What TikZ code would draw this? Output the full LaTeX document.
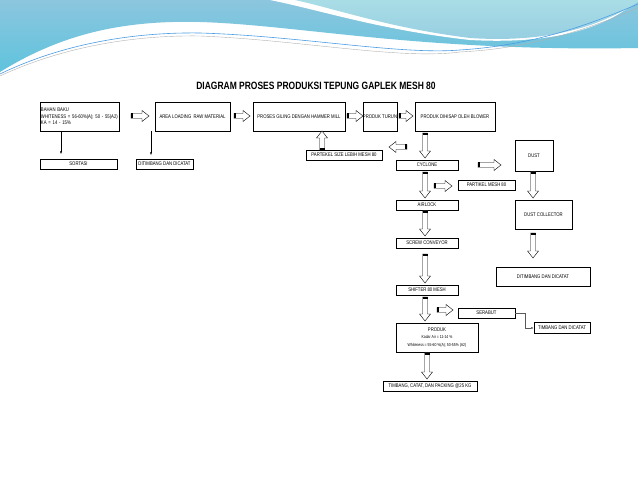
\documentclass[tikz,border=0pt]{standalone}
\usepackage{fontspec}
\setmainfont{Liberation Sans}
\newfontfamily\nar[FakeStretch=0.8]{Liberation Sans}
\usetikzlibrary{arrows.meta}
\definecolor{wa}{HTML}{5FC3DD}
\definecolor{wb}{HTML}{8CC6DE}
\definecolor{wc}{HTML}{A9DDE6}
\tikzset{
 x=1pt,y=-1pt,
 bx/.style={draw,line width=0.7pt,inner sep=1pt,font=\nar\fontsize{5.3}{6.3}\selectfont},
 fat/.pic={\draw[fill=white,line width=0.4pt] (0,-2.5)--(#1-7,-2.5)--(#1-7,-5.5)--(#1,0)--(#1-7,5.5)--(#1-7,2.5)--(0,2.5)--cycle;
   \fill (0,-2.5) rectangle (2.2,2.5);},
 thin/.style={-{Latex[length=2.5pt,width=2pt]},line width=0.3pt}
}
\newcommand{\bxat}[6]{\node[bx,minimum width=#3-#1,minimum height=#4-#2,#5] (#6) at ({(#1+#3)/2},{(#2+#4)/2})}
\begin{document}
\begin{tikzpicture}
\useasboundingbox (0,0) rectangle (638,478);
\fill[white] (0,0) rectangle (638,478);
% waves
\shade[top color=wb,bottom color=wa] (0,0) -- (0,72) .. controls (60,35) and (120,20) .. (200,22) .. controls (300,25) and (420,52) .. (638,48) -- (638,0) -- cycle;
\fill[white] (270,0) .. controls (320,10) and (380,30) .. (470,40) .. controls (560,45) and (610,25) .. (638,0) -- cycle;
\shade[top color=wc,bottom color=wb!70!wc] (295,0) .. controls (340,10) and (390,28) .. (470,38) .. controls (560,44) and (610,20) .. (638,2) -- (638,0) -- cycle;
\draw[wa!80!blue,line width=0.6pt] (0,74) .. controls (60,45) and (130,32) .. (200,33) .. controls (300,36) and (400,55) .. (460,50) .. controls (540,45) and (600,20) .. (638,4);
\draw[gray!60,line width=0.4pt] (0,76) .. controls (60,48) and (130,35) .. (200,36) .. controls (300,40) and (400,60) .. (460,52) .. controls (540,48) and (600,24) .. (638,8);
% title
\node[font=\nar\bfseries\fontsize{10.6}{12}\selectfont] (title) at (316,86) {DIAGRAM PROSES PRODUKSI TEPUNG GAPLEK MESH 80};
% boxes
\bxat{40}{102}{119}{131}{align=left,text width=77pt,inner sep=1pt}{bahan}{BAHAN BAKU\\WHITENESS = 56-60\%(A); 50 - 55(A2)\\KA = 14 - 15\%};
\bxat{155}{102}{230}{131}{}{area}{AREA LOADING \ RAW MATERIAL};
\bxat{253}{102}{345}{131}{}{giling}{PROSES GILING DENGAN HAMMER MILL};
\bxat{364}{102}{396}{131}{inner sep=0pt}{turun}{PRODUK TURUN};
\bxat{415}{102}{495}{131}{}{hisap}{PRODUK DIHISAP OLEH BLOWER};
\bxat{40}{159}{117}{169}{}{sortasi}{SORTASI};
\bxat{136}{159}{193}{169}{inner sep=0pt}{dit1}{DITIMBANG DAN DICATAT};
\bxat{306}{150}{382}{160}{inner sep=0pt}{partekel}{PARTEKEL SIZE LEBIH MESH 80};
\bxat{396}{160}{458}{170}{}{cyclone}{CYCLONE};
\bxat{515}{140}{553}{171}{}{dust}{DUST};
\bxat{458}{180}{515}{190}{}{pm}{PARTIKEL MESH 80};
\bxat{396}{200}{458}{210}{}{airlock}{AIRLOCK};
\bxat{515}{200}{572}{229}{}{dc}{DUST COLLECTOR};
\bxat{396}{238}{458}{248}{}{screw}{SCREW CONVEYOR};
\bxat{496}{267}{590}{286}{}{dit2}{DITIMBANG DAN DICATAT};
\bxat{396}{285}{458}{295}{}{shifter}{SHIFTER 80 MESH};
\bxat{458}{308}{515}{318}{}{serabut}{SERABUT};
\bxat{534}{322}{590}{333}{}{timbang}{TIMBANG DAN DICATAT};
\bxat{396}{323}{478}{352}{align=center}{produk}{PRODUK\\[1pt]{\fontsize{4.3}{5}\selectfont Kadar Air = 11-14 \%}\\[1pt]{\fontsize{4.3}{5}\selectfont Whiteness = 55-60 \%(A); 50-55\% (A2)}};
\bxat{383}{381}{477}{391}{}{pack}{TIMBANG, CATAT, DAN PACKING @25 KG};
% block arrows
\pic at (131,116) {fat=18};
\pic at (234,116) {fat=16};
\pic at (347,116) {fat=16};
\pic at (399,116) {fat=14};
\pic[rotate=90] at (322,150) {fat=19};
\pic[rotate=180] at (407,147) {fat=18};
\pic[rotate=-90] at (425,133) {fat=25};
\pic at (478,165) {fat=23};
\pic[rotate=-90] at (533,172) {fat=26};
\pic[rotate=-90] at (425,172) {fat=26};
\pic at (434,186) {fat=18};
\pic[rotate=-90] at (425,211) {fat=25};
\pic[rotate=-90] at (533,233) {fat=25};
\pic[rotate=-90] at (425,254) {fat=29};
\pic[rotate=-90] at (425,297) {fat=24};
\pic at (437,310) {fat=16};
\pic[rotate=-90] at (427,353) {fat=26};
% thin arrows
\coordinate (t1) at (61,131);
\draw[thin] (t1) -- ++(0,23);
\coordinate (t2) at (151,131);
\draw[thin] (t2) -- ++(0,24);
\draw[thin,gray!70!black] (serabut.east) -| (525,328) -- (timbang.west |- 0,328);
\end{tikzpicture}
\end{document}
